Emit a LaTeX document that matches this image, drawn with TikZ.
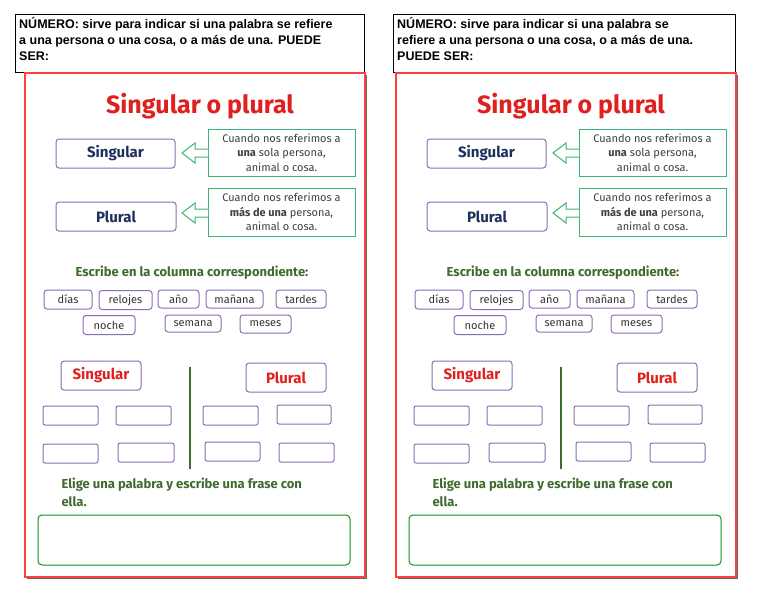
\documentclass[tikz,border=0pt]{standalone}
\usepackage{fontspec}
\setmainfont{Liberation Sans}
\newfontfamily\cf{Fira Sans}
\definecolor{navy}{HTML}{1F2F5C}
\definecolor{dgreen}{HTML}{3E6B2E}
\definecolor{lgreen}{HTML}{3CB371}
\definecolor{purp}{HTML}{8E6BB8}
\definecolor{redt}{HTML}{E0201E}
\tikzset{
 pbox/.style={draw=purp,line width=1pt,rounded corners=3pt,fill=white},
 gbox/.style={draw=lgreen,line width=1pt,fill=white,align=center,font=\cf\fontsize{11}{14.5}\selectfont,text=black!75},
 word/.style={pbox,font=\cf\fontsize{11}{12}\selectfont,text=black!80},
 hdr/.style={draw=black,line width=0.6pt,align=left,anchor=north west,inner sep=3pt,font=\bfseries\fontsize{12.5}{16}\selectfont},
}
\newcommand\panel[1]{%
\begin{scope}[xshift=#1pt]
\fill[black!60] (27,75) rectangle (367,579);
\draw[red!75,fill=white,line width=1.2pt] (25,73) rectangle (365,577);
\node[font=\cf\bfseries\fontsize{25}{28}\selectfont,text=redt] (t) at (200,106) {Singular o plural};
\node[pbox,minimum width=119pt,minimum height=29pt,font=\cf\bfseries\fontsize{15}{17}\selectfont,text=navy] (s) at (115.5,153.5) {Singular};
\node[gbox,minimum width=147pt,minimum height=47pt,inner sep=1pt] (gs) at (281.5,152.5) {Cuando nos referimos a\\\textbf{una} sola persona,\\animal o cosa.};
\node[pbox,minimum width=120pt,minimum height=29pt,font=\cf\bfseries\fontsize{15}{17}\selectfont,text=navy] (p) at (116,216.5) {Plural};
\node[gbox,minimum width=147pt,minimum height=48pt,inner sep=1pt] (gp) at (281.5,212) {Cuando nos referimos a\\\textbf{más de una} persona,\\animal o cosa.};
\foreach \y in {153,213}{
\draw[lgreen,line width=1pt,fill=white] (208,\y-4)--(195,\y-4)--(195,\y-10)--(182,\y)--(195,\y+10)--(195,\y+4)--(208,\y+4);}
\node[font=\cf\bfseries\fontsize{13}{15}\selectfont,text=dgreen] (e) at (192,273) {Escribe en la columna correspondiente:};
\node[word,minimum width=48pt,minimum height=19pt] (w1) at (68,299.5) {días};
\node[word,minimum width=53pt,minimum height=19pt] (w2) at (125.5,300) {relojes};
\node[word,minimum width=41pt,minimum height=18pt] (w3) at (178.5,299) {año};
\node[word,minimum width=57pt,minimum height=18pt] (w4) at (234.5,299) {mañana};
\node[word,minimum width=50pt,minimum height=18pt] (w5) at (301,299) {tardes};
\node[word,minimum width=52pt,minimum height=19pt] (w6) at (109,325) {noche};
\node[word,minimum width=56pt,minimum height=17pt] (w7) at (193,323.5) {semana};
\node[word,minimum width=51pt,minimum height=18pt] (w8) at (265.5,324) {meses};
\node[pbox,minimum width=80pt,minimum height=29pt,font=\cf\bfseries\fontsize{15}{17}\selectfont,text=redt] (rs) at (101,375.5) {Singular};
\node[pbox,minimum width=80pt,minimum height=29pt,font=\cf\bfseries\fontsize{15}{17}\selectfont,text=redt] (rp) at (286,377.5) {Plural};
\coordinate (la) at (190,367); \coordinate (lb) at (190,469);
\draw[dgreen,line width=1.5pt] (la)--(lb);
\foreach \a/\b/\c/\d in {43/406/98/425,116/406/171/425,203/406/258/425,277/405/331/424,43/444/98/463,118/443/174/462,205/442/260/461,279/443/334/462}
 \draw[purp,line width=1pt,rounded corners=2pt,fill=white] (\a,\b) rectangle (\c,\d);
\node[anchor=north west,align=left,font=\cf\bfseries\fontsize{13}{18}\selectfont,text=dgreen] (el) at (58,474) {Elige una palabra y escribe una frase con\\ella.};
\draw[green!50!black!70!lgreen,line width=1pt,rounded corners=4pt,fill=white] (38,515) rectangle (350,565);
\end{scope}}
\begin{document}
\begin{tikzpicture}[x=1pt,y=-1pt]
\useasboundingbox (0,0) rectangle (768,594);
\fill[white] (0,0) rectangle (768,594);
\draw[black,line width=0.6pt] (15,14) rectangle (364,72);
\draw[black,line width=0.6pt] (393,14) rectangle (735,72);
\node[anchor=north west,align=left,inner sep=0pt,font=\bfseries\fontsize{12.5}{16}\selectfont] (h1) at (19,17) {NÚMERO: sirve para indicar si una palabra se refiere\\a una persona o una cosa, o a más de una. PUEDE\\SER:};
\node[anchor=north west,align=left,inner sep=0pt,font=\bfseries\fontsize{12.5}{16}\selectfont] (h2) at (397,17) {NÚMERO: sirve para indicar si una palabra se\\refiere a una persona o una cosa, o a más de una.\\PUEDE SER:};
\panel{0}
\panel{371}
\end{tikzpicture}
\end{document}
